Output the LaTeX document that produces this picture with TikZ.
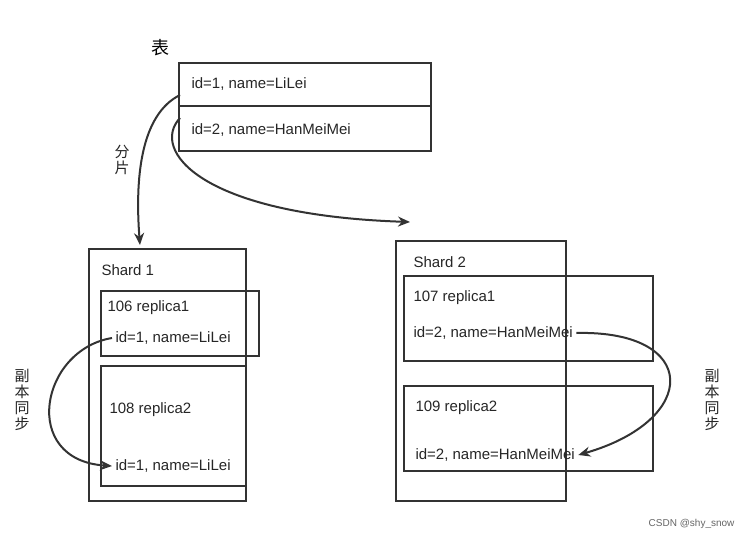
\documentclass[tikz,border=0pt]{standalone}
\usepackage{fontspec}
\setmainfont{Liberation Sans}
\newfontfamily\cjk{Noto Sans CJK SC}
\usetikzlibrary{arrows.meta}
\begin{document}
\begin{tikzpicture}[x=1pt,y=-1pt,
  box/.style={draw=black!80,line width=2pt},
  txt/.style={font=\fontsize{15}{17}\selectfont,anchor=west,text=black!85},
  arr/.style={draw=black!80,line width=2pt,-{Stealth[length=12pt,width=10pt]}},
  vlab/.style={font=\cjk\fontsize{15}{16}\selectfont,align=center,text=black!85}]
\useasboundingbox[fill=white] (0,0) rectangle (750,540);
% table
\node[font=\cjk\fontsize{18}{20}\selectfont] (tlabel) at (160,48) {表};
\node[box,minimum width=252pt,minimum height=88pt,anchor=north west] (tbl) at (178,62) {};
\draw[box] (tbl.west |- 0,106) coordinate (dl) -- (tbl.east |- 0,106);
\node[txt] (r1) at (188,84) {id=1, name=LiLei};
\node[txt] (r2) at (188,130) {id=2, name=HanMeiMei};
\coordinate (s1) at (180,95);
\coordinate (s2) at (180,118);
% shard 1
\node[box,minimum width=157pt,minimum height=252pt,anchor=north west] (sh1) at (88,248) {};
\node[txt] (sh1t) at (98,270) {Shard 1};
\node[box,minimum width=158pt,minimum height=65pt,anchor=north west] (rep106) at (100,290) {};
\node[txt] (rep106a) at (104,308) {106 replica1};
\node[txt] (rep106b) at (112,338) {id=1, name=LiLei};
\node[box,minimum width=145pt,minimum height=120pt,anchor=north west] (rep108) at (100,365) {};
\node[txt] (rep108a) at (106,410) {108 replica2};
\node[txt] (rep108b) at (112,466) {id=1, name=LiLei};
% shard 2
\node[box,minimum width=170pt,minimum height=260pt,anchor=north west] (sh2) at (395,240) {};
\node[txt] (sh2t) at (410,262) {Shard 2};
\node[box,minimum width=249pt,minimum height=85pt,anchor=north west] (rep107) at (403,275) {};
\node[txt] (rep107a) at (410,298) {107 replica1};
\node[txt] (rep107b) at (410,333) {id=2, name=HanMeiMei};
\node[box,minimum width=249pt,minimum height=85pt,anchor=north west] (rep109) at (403,385) {};
\node[txt] (rep109a) at (412,408) {109 replica2};
\node[txt] (rep109b) at (412,455) {id=2, name=HanMeiMei};
% shard arrows
\draw[arr] (s1) .. controls (140,115) and (135,180) .. (140,245);
\node[vlab] (fenpian) at (122,160) {分\\片};
\draw[arr] (s2) .. controls (150,150) and (200,215) .. (410,222);
% sync arrows
\draw[arr] (rep106b.west) .. controls (40,350) and (20,460) .. (rep108b.west);
\node[vlab] (sync1) at (22,400) {副\\本\\同\\步};
\draw[arr] (rep107b.east) .. controls (700,330) and (700,420) .. (rep109b.east);
\node[vlab] (sync2) at (712,400) {副\\本\\同\\步};
\node[font=\fontsize{10}{11}\selectfont,anchor=south east,text=black!60] (csdn) at (738,532) {CSDN @shy\_snow};
\end{tikzpicture}
\end{document}
